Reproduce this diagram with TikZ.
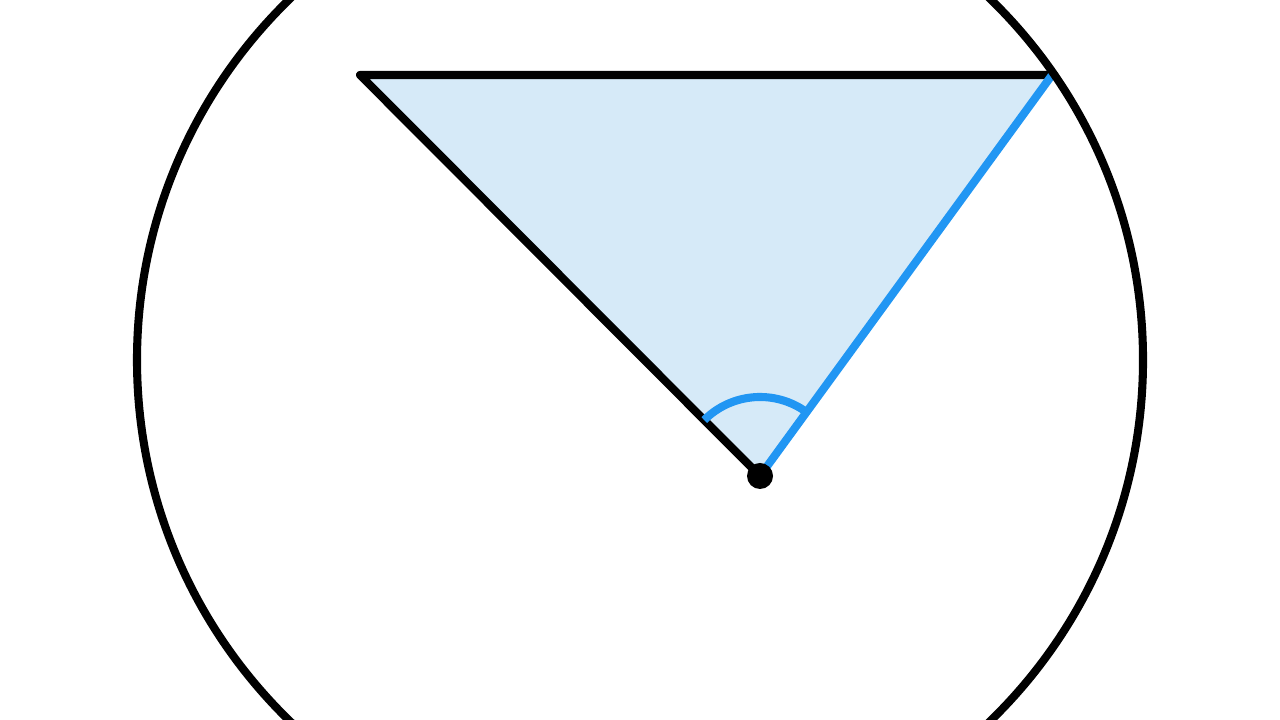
\documentclass[tikz,border=0pt]{standalone}
\usetikzlibrary{angles}
\definecolor{myblue}{RGB}{33,150,243}
\definecolor{mylightblue}{RGB}{214,234,248}
\newcommand{\widthline}{2.3pt}
\newcommand{\radiuscircle}{5.03}
\tikzset{
    edge/.style={draw, line width=\widthline, line cap=round, line join=round},
    blueedge/.style={edge, myblue},
    dot/.style={circle, fill, inner sep=0pt, minimum size=2.6mm}
}

\begin{document}
\begin{tikzpicture}
    \useasboundingbox (0,0) rectangle (12.8,7.2);
    \clip (0,0) rectangle (12.8,7.2);
    \fill[white] (0,0) rectangle (12.8,7.2);

    \coordinate (O) at (6.40,3.60);
    \coordinate (A) at (3.60,6.45);
    \coordinate (B) at (10.52,6.45);
    \coordinate (P) at (7.60,2.44);

    % shaded triangle
    \fill[mylightblue] (P) -- (A) -- (B) -- cycle;
    \draw[edge] (P) -- (A) -- (B);
    \draw[blueedge] (B) -- (P);
    \pic[draw=myblue, line width=\widthline, angle radius=7.9mm] {angle=B--P--A};

    \draw[edge] (O) circle[radius=\radiuscircle];
    \node[dot] (Pdot) at (P) {};
\end{tikzpicture}
\end{document}
